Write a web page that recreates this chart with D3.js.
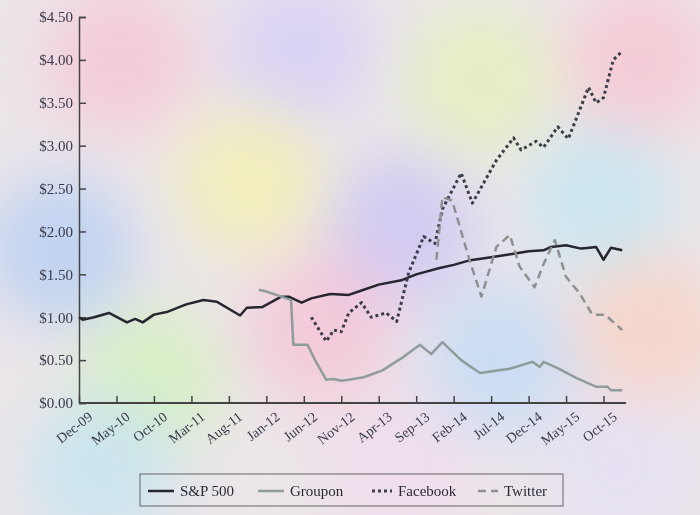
<!DOCTYPE html>
<html><head><meta charset="utf-8">
<script src="https://cdn.jsdelivr.net/npm/d3@7"></script>
<style>body{margin:0;background:#e9e4ea}</style>
</head><body>
<script>
// month offsets from Dec-09
const tickLabels = ['Dec-09','May-10','Oct-10','Mar-11','Aug-11','Jan-12','Jun-12','Nov-12','Apr-13','Sep-13','Feb-14','Jul-14','Dec-14','May-15','Oct-15'];
const yTicks = [0,0.5,1,1.5,2,2.5,3,3.5,4,4.5];

const spMonths = [0,0.5,2,4,6.4,7.5,8.5,10,11.7,14.3,16.6,18.4,21.5,22.4,24.5,27,28,29.7,31,33.5,36,38,40,43,45,48,50,52,55,58,60,62,63,65,67,69,70,71,72.5];
const spVals   = [1.00,0.97,1.00,1.05,0.94,0.98,0.94,1.03,1.06,1.15,1.20,1.18,1.02,1.11,1.12,1.24,1.24,1.17,1.22,1.27,1.26,1.32,1.38,1.43,1.50,1.57,1.61,1.66,1.70,1.74,1.77,1.78,1.82,1.84,1.80,1.82,1.67,1.81,1.78];

const grpMonths = [24,25,27,28.3,28.6,30.5,31.5,33,34,35,36,38,40.5,43,45.5,47,48.5,51,53.5,57.5,60.5,61.5,62,64,66.4,69,70.5,71,72.5];
const grpVals   = [1.32,1.30,1.24,1.20,0.68,0.68,0.50,0.27,0.28,0.26,0.27,0.30,0.38,0.52,0.68,0.57,0.71,0.50,0.35,0.40,0.48,0.42,0.48,0.40,0.29,0.19,0.19,0.15,0.15];

const fbMonths = [31,33,34,35,36,37.7,39,41,42.4,44,46,47.5,48.5,51,52.5,55.7,58,59,61,62,63.9,65.3,68,69,70,71.3,72.5];
const fbVals   = [1.00,0.72,0.85,0.83,1.05,1.17,1.00,1.05,0.95,1.52,1.94,1.86,2.26,2.68,2.33,2.83,3.09,2.95,3.05,2.98,3.22,3.08,3.68,3.50,3.56,4.00,4.10];

const twMonths = [47.7,48.5,49.8,52,53.7,55.7,57.5,58.8,60.8,62,63.5,65,66.8,68.5,70.2,72.5];
const twVals   = [1.67,2.40,2.36,1.70,1.24,1.82,1.96,1.59,1.35,1.62,1.90,1.47,1.28,1.03,1.03,0.85];

const W = 700, H = 515;
const svg = d3.select('body').append('svg').attr('width', W).attr('height', H);

// pastel photo-like backdrop
const defs = svg.append('defs');
defs.append('filter').attr('id','blur').append('feGaussianBlur').attr('stdDeviation', 30);
svg.append('rect').attr('width', W).attr('height', H).attr('fill', '#ece6ea');
const blobs = [[120,60,'#f4c9d6'],[300,50,'#d9d0f5'],[480,80,'#e6f0c0'],[640,60,'#f6c9d4'],
  [60,250,'#bcd0f2'],[250,180,'#f2f0b8'],[400,230,'#cfc8f2'],[600,200,'#c8e6f0'],
  [150,380,'#d6f0c0'],[320,330,'#f4c6d8'],[500,360,'#c6dcf4'],[650,330,'#f6d4c8'],
  [100,470,'#c8e4ee'],[400,470,'#f0ddec'],[620,470,'#e6e0f2']];
svg.append('g').attr('filter','url(#blur)').selectAll('circle').data(blobs).enter()
  .append('circle').attr('cx', d => d[0]).attr('cy', d => d[1]).attr('r', 75)
  .attr('fill', d => d[2]).attr('opacity', 0.9);

const x = d3.scaleLinear().domain([0, 73]).range([79, 626]);
const y = d3.scaleLinear().domain([0, 4.5]).range([403, 17]);

const font = '"Liberation Serif", serif';

// y axis
const yAxis = d3.axisRight(y).tickValues(yTicks).tickSize(7).tickFormat(d => '$' + d.toFixed(2));
const gy = svg.append('g').attr('transform', 'translate(79,0)').call(yAxis);
gy.select('.domain').attr('stroke', '#444').attr('stroke-width', 1.5);
gy.selectAll('line').attr('stroke', '#444').attr('stroke-width', 1.5);
gy.selectAll('text').attr('x', -6).attr('text-anchor', 'end')
  .style('font-family', font).style('font-size', '15px').attr('fill', '#3a3a4a');

// x axis
const xAxis = d3.axisTop(x).tickValues(d3.range(0, 71, 5)).tickSize(7).tickFormat((d, i) => tickLabels[i]);
const gx = svg.append('g').attr('transform', 'translate(0,403)').call(xAxis);
gx.select('.domain').attr('d', 'M79,0H626').attr('stroke', '#444').attr('stroke-width', 2);
gx.selectAll('line').attr('stroke', '#444').attr('stroke-width', 1.5);
gx.selectAll('text').attr('y', 0).attr('dy', 0)
  .attr('transform', 'translate(8,8) rotate(-38)').attr('text-anchor', 'end').attr('dominant-baseline', 'hanging')
  .style('font-family', font).style('font-size', '14px').attr('fill', '#3a3a4a');

const line = d3.line().x(d => x(d[0])).y(d => y(d[1]));
const zip = (m, v) => m.map((d, i) => [d, v[i]]);
const series = [
  { name: 'S&P 500', data: zip(spMonths, spVals), color: '#262630', dash: null, w: 2.5 },
  { name: 'Groupon', data: zip(grpMonths, grpVals), color: '#8f9c9c', dash: null, w: 2.5 },
  { name: 'Facebook', data: zip(fbMonths, fbVals), color: '#3a3e48', dash: '3,3', w: 3 },
  { name: 'Twitter', data: zip(twMonths, twVals), color: '#8f9090', dash: '8,5', w: 2.5 }
];
svg.append('g').selectAll('path').data(series).enter().append('path')
  .attr('d', d => line(d.data)).attr('fill', 'none')
  .attr('stroke', d => d.color).attr('stroke-width', d => d.w)
  .attr('stroke-dasharray', d => d.dash).attr('stroke-linejoin', 'round');

// legend
const lg = svg.append('g').attr('transform', 'translate(140,474)');
lg.append('rect').attr('width', 423).attr('height', 32).attr('fill', 'none').attr('stroke', '#666').attr('stroke-width', 1);
const offs = [8, 118, 232, 338];
const lens = [26, 26, 20, 20];
series.forEach((s, i) => {
  const g = lg.append('g').attr('transform', 'translate(' + offs[i] + ',17)');
  g.append('line').attr('x1', 0).attr('x2', lens[i]).attr('stroke', s.color).attr('stroke-width', s.w).attr('stroke-dasharray', s.dash);
  g.append('text').attr('x', lens[i] + 6).attr('dy', '0.35em').text(s.name)
    .style('font-family', font).style('font-size', '15px').attr('fill', '#2a2a34');
});
</script>
</body></html>
